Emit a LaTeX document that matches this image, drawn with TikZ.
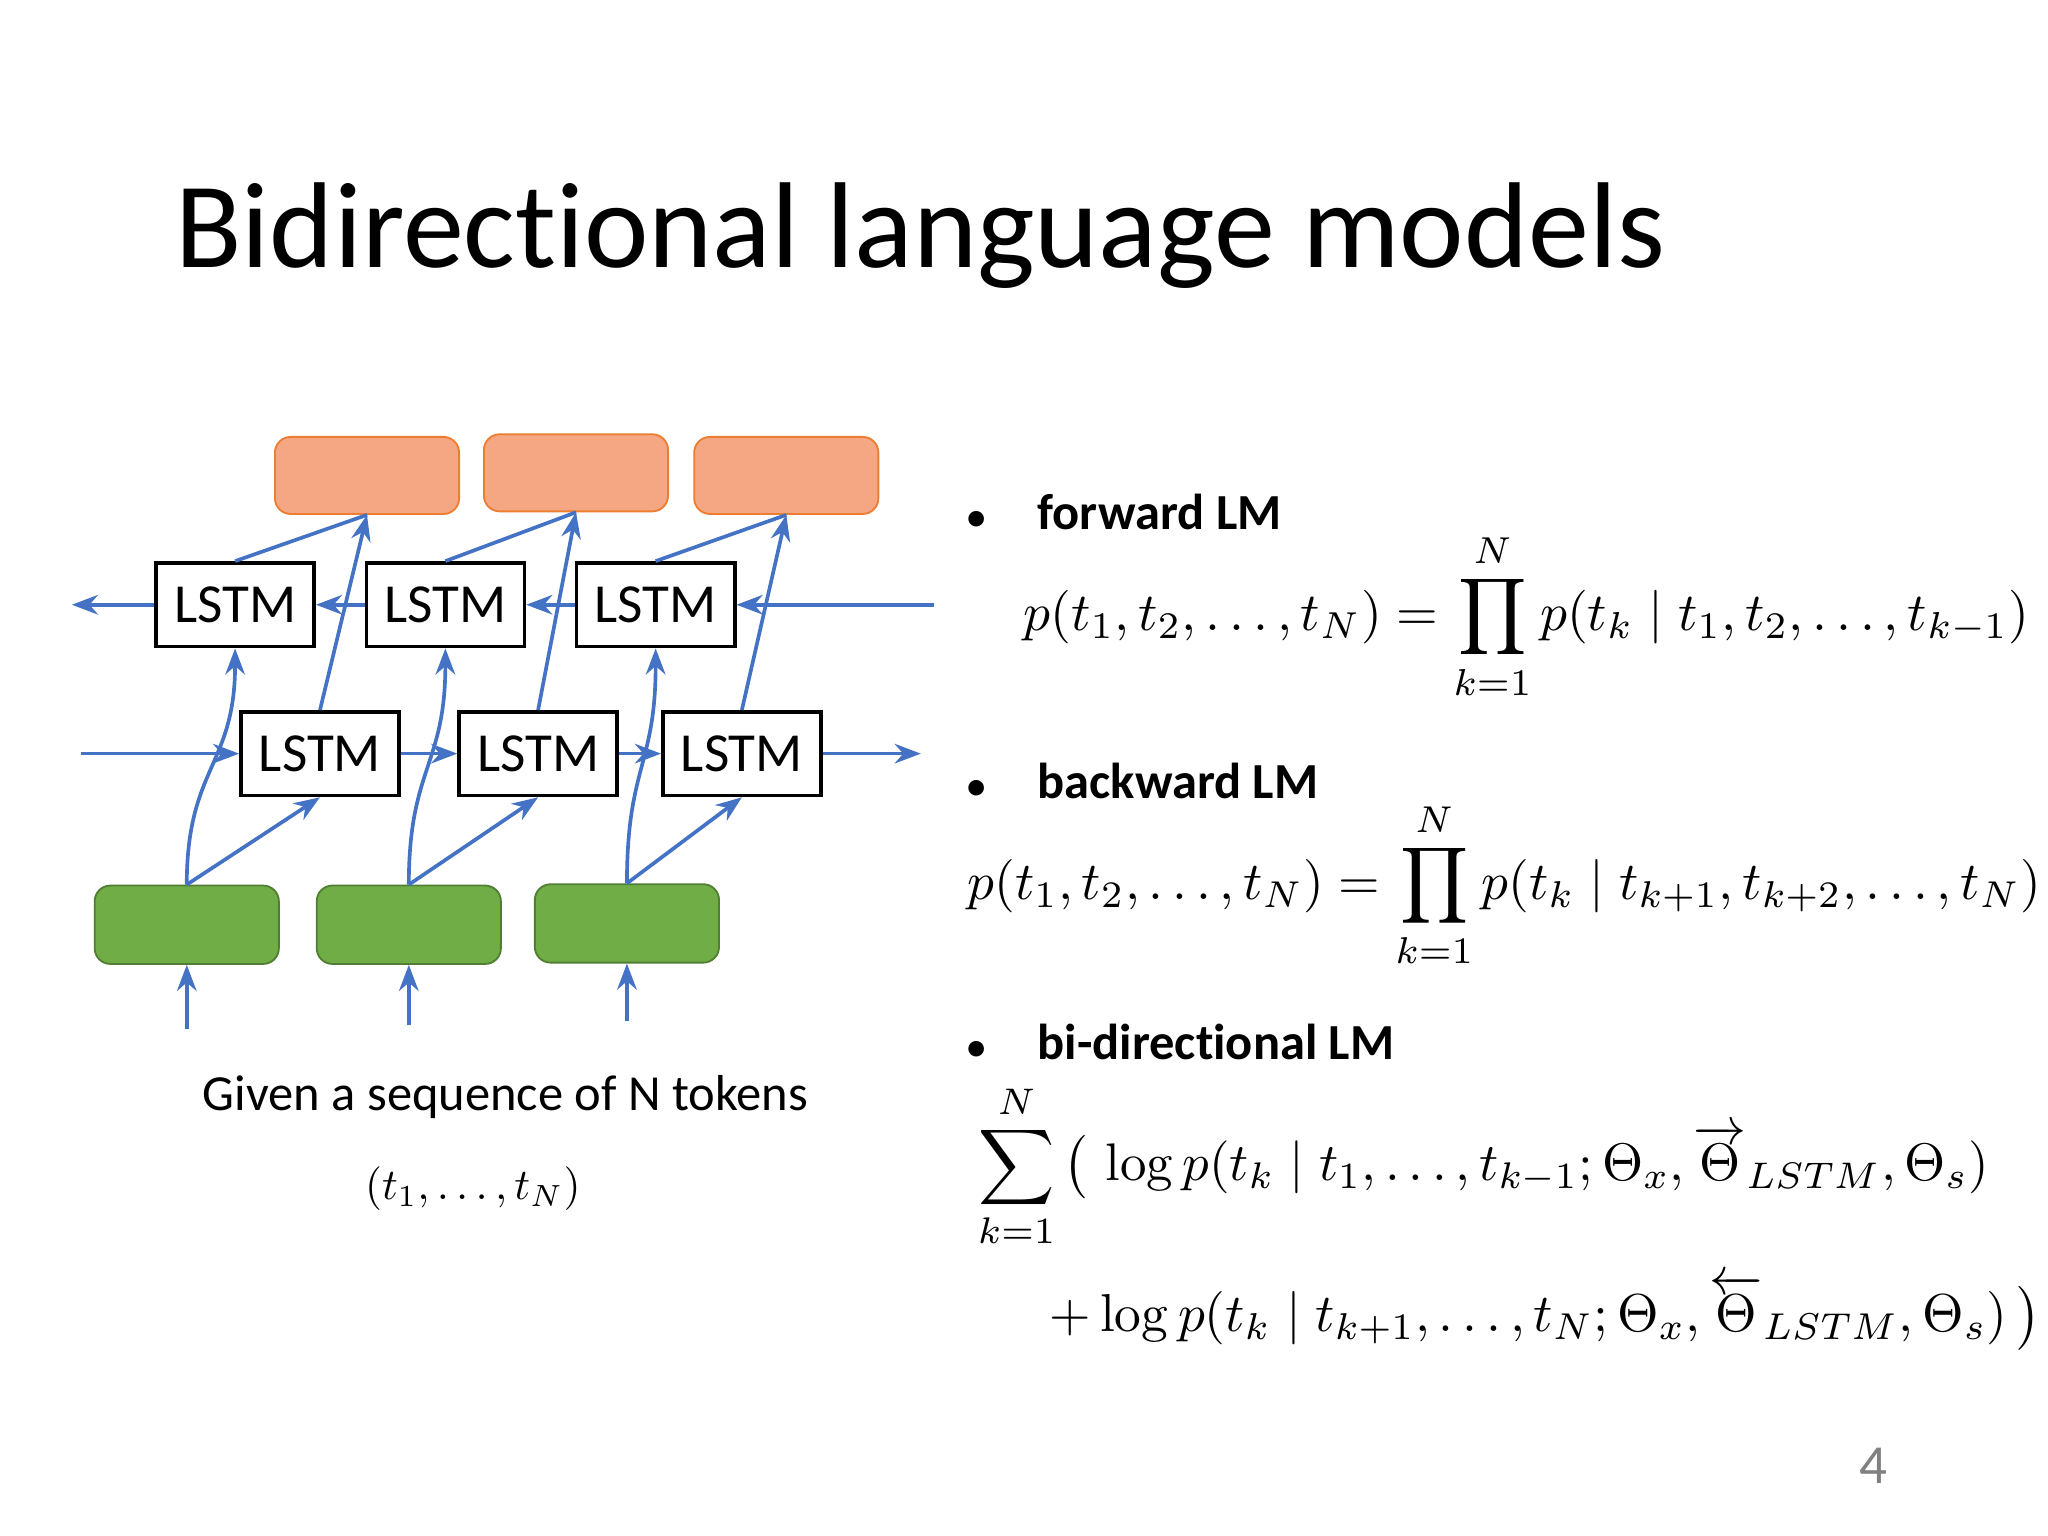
\documentclass[tikz,border=0pt]{standalone}
\usepackage{amsmath}
\usepackage[no-math]{fontspec}
\setmainfont{Carlito}[Ligatures=NoCommon]
\usetikzlibrary{arrows.meta}
\definecolor{arr}{HTML}{4472C4}
\definecolor{ofill}{HTML}{F5A683}
\definecolor{oline}{HTML}{ED7D31}
\definecolor{gfill}{HTML}{70AD47}
\definecolor{gline}{HTML}{507E32}
\begin{document}
\begin{tikzpicture}[x=0.1mm,y=-0.1mm,
  lstm/.style={draw=black,thick,minimum width=12.1mm,minimum height=6.4mm,inner sep=0pt,font=\fontsize{12}{13}\selectfont},
  obox/.style={draw=oline,fill=ofill,rounded corners=1.2mm,minimum width=14.1mm,minimum height=5.9mm},
  gbox/.style={draw=gline,fill=gfill,rounded corners=1.2mm,minimum width=14.1mm,minimum height=6mm},
  ar/.style={draw=arr,thick,-{Stealth[length=2mm]}},
  ln/.style={draw=arr,thick},
  hd/.style={anchor=west,font=\fontsize{11}{12}\selectfont\bfseries}]
\useasboundingbox (0,0) rectangle (1568,1176);
\node[anchor=base west,font=\fontsize{26.6}{29}\selectfont] (title) at (122,205) {Bidirectional language models};
% orange
\node[obox] (o1) at (281,364) {};
\node[obox] (o2) at (441,362) {};
\node[obox] (o3) at (602,364) {};
% upper lstm
\node[lstm] (u1) at (180,463) {LSTM};
\node[lstm] (u2) at (341,463) {LSTM};
\node[lstm] (u3) at (502,463) {LSTM};
% lower
\node[lstm] (l1) at (245,577) {LSTM};
\node[lstm] (l2) at (412,577) {LSTM};
\node[lstm] (l3) at (568,577) {LSTM};
% green
\node[gbox] (g1) at (143,708) {};
\node[gbox] (g2) at (313,708) {};
\node[gbox] (g3) at (480,707) {};
\coordinate (ur) at (715,463); \coordinate (ul) at (55,463);
\coordinate (ll) at (62,577); \coordinate (lr) at (705,577);
\draw[ar] (ur) -- (u3.east);
\draw[ar] (u3.west) -- (u2.east);
\draw[ar] (u2.west) -- (u1.east);
\draw[ar] (u1.west) -- (ul);
\draw[ar] (ll) -- (l1.west);
\draw[ar] (l1.east) -- (l2.west);
\draw[ar] (l2.east) -- (l3.west);
\draw[ar] (l3.east) -- (lr);
\foreach \g/\l/\u/\o in {g1/l1/u1/o1,g2/l2/u2/o2,g3/l3/u3/o3}{
  \draw[ar] (\g.north) -- (\l.south);
  \draw[ar] (\g.north) .. controls ([yshift=9mm]\g.north) and ([yshift=-9mm]\u.south) .. (\u.south);
  \draw[ar] (\l.north) -- (\o.south);
  \draw[ln] (\u.north) -- (\o.south);
}
\coordinate (i1) at (143,788); \coordinate (i2) at (313,785); \coordinate (i3) at (480,782);
\draw[ar] (i1) -- (g1.south);
\draw[ar] (i2) -- (g2.south);
\draw[ar] (i3) -- (g3.south);
\node[font=\fontsize{11}{12}\selectfont] (cap) at (387,840) {Given a sequence of N tokens};
\node (tok) at (362,910) {\resizebox{16.5mm}{!}{$(t_1,\ldots,t_N)$}};
% right side
\node[hd] (b1) at (728,392) {{\fontsize{8}{9}\selectfont\textbullet}\hspace{4mm}forward LM};
\node[hd] (b2) at (728,598) {{\fontsize{8}{9}\selectfont\textbullet}\hspace{4mm}backward LM};
\node[hd] (b3) at (728,798) {{\fontsize{8}{9}\selectfont\textbullet}\hspace{4mm}bi-directional LM};
\node[anchor=west,inner sep=0] (e1) at (783,472) {\resizebox{77mm}{!}{$\displaystyle p(t_1,t_2,\ldots,t_N)=\prod_{k=1}^{N}p(t_k\mid t_1,t_2,\ldots,t_{k-1})$}};
\node[anchor=west,inner sep=0] (e2) at (740,678) {\resizebox{82.2mm}{!}{$\displaystyle p(t_1,t_2,\ldots,t_N)=\prod_{k=1}^{N}p(t_k\mid t_{k+1},t_{k+2},\ldots,t_N)$}};
\node[anchor=west,inner sep=0] (e3) at (748,893) {\resizebox{77.4mm}{!}{$\displaystyle \sum_{k=1}^{N}\big(\,\log p(t_k\mid t_1,\ldots,t_{k-1};\Theta_x,\overrightarrow{\Theta}_{LSTM},\Theta_s)$}};
\node[anchor=west,inner sep=0] (e4) at (803,1005) {\resizebox{75.9mm}{!}{$\displaystyle +\log p(t_k\mid t_{k+1},\ldots,t_N;\Theta_x,\overleftarrow{\Theta}_{LSTM},\Theta_s)\,\big)$}};
\node[text=gray,font=\fontsize{12}{13}\selectfont] (pg) at (1434,1122) {4};
\end{tikzpicture}
\end{document}
